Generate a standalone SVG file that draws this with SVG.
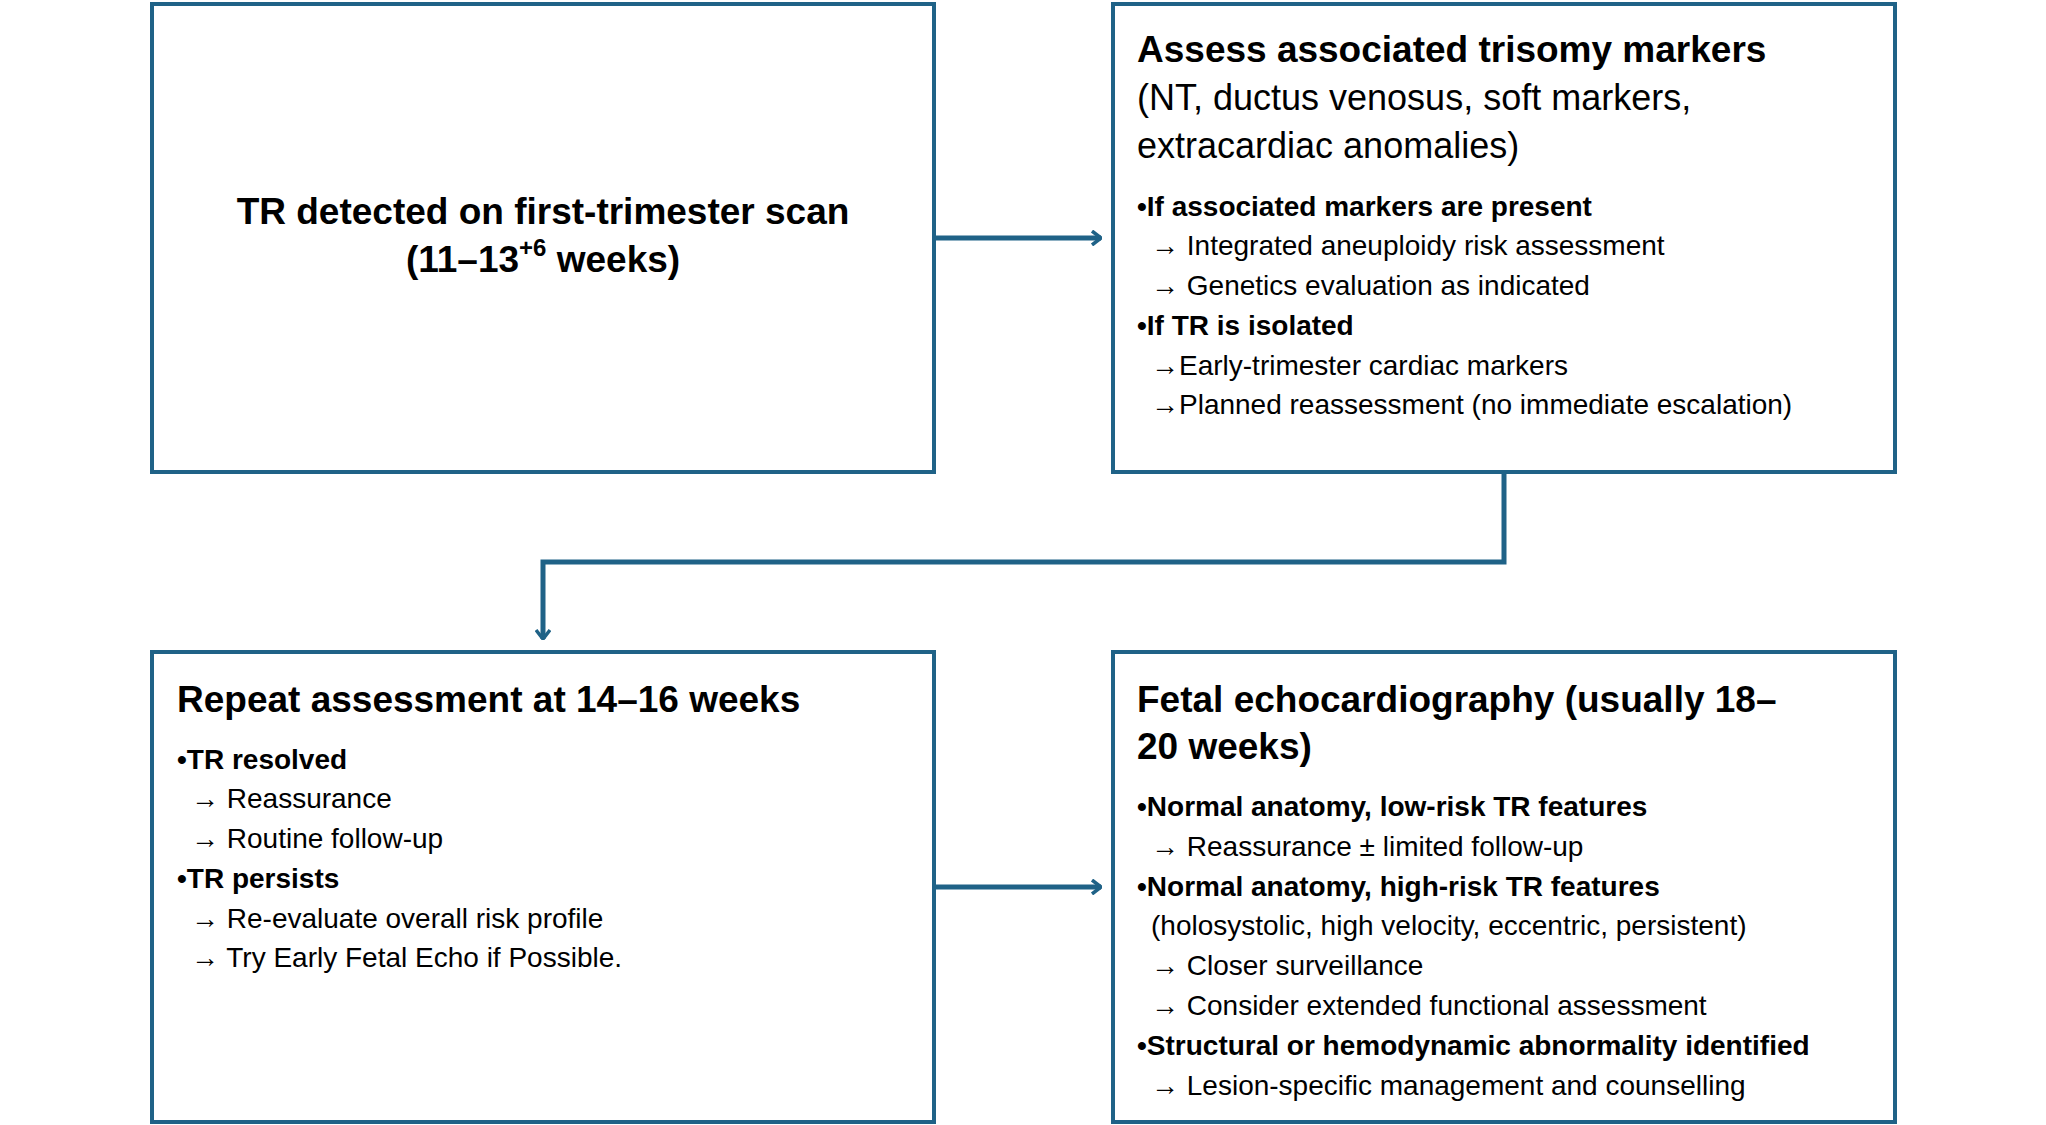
<svg xmlns="http://www.w3.org/2000/svg" width="2046" height="1125" viewBox="0 0 2046 1125">
<style>
.box{fill:#fff;stroke:#1f6287;stroke-width:4}
.c{fill:none;stroke:#1f6287;stroke-width:5}
text{font-family:"Liberation Sans",Arial,sans-serif;fill:#000}
.t{font-size:37px;font-weight:bold}
.s{font-size:36px}
.b{font-size:28px;font-weight:bold}
.n{font-size:28px}
</style>
<defs>
<marker id="ah" viewBox="0 0 12 16" refX="11" refY="8" markerWidth="12" markerHeight="16" markerUnits="userSpaceOnUse" orient="auto">
<path d="M2 1 L11 8 L2 15" fill="none" stroke="#1f6287" stroke-width="3.5"/>
</marker>
</defs>
<g id="connectors">
<path class="c" d="M934 238 H1101" marker-end="url(#ah)"/>
<path class="c" d="M1504 472 V562 H543 V639" marker-end="url(#ah)"/>
<path class="c" d="M934 887 H1101" marker-end="url(#ah)"/>
</g>
<g id="n1">
<rect class="box" x="152" y="4" width="782" height="468"/>
<text class="t" x="543" y="224" text-anchor="middle">TR detected on first-trimester scan</text>
<text class="t" x="543" y="272" text-anchor="middle">(11–13<tspan font-size="24" dy="-16">+6</tspan><tspan dy="16"> weeks)</tspan></text>
</g>
<g id="n2">
<rect class="box" x="1113" y="4" width="782" height="468"/>
<text class="t" x="1137" y="62">Assess associated trisomy markers</text>
<text class="s" x="1137" y="110">(NT, ductus venosus, soft markers,</text>
<text class="s" x="1137" y="158">extracardiac anomalies)</text>
<text class="b" x="1137" y="216">•If associated markers are present</text>
<text class="n" x="1151" y="255">→ Integrated aneuploidy risk assessment</text>
<text class="n" x="1151" y="295">→ Genetics evaluation as indicated</text>
<text class="b" x="1137" y="335">•If TR is isolated</text>
<text class="n" x="1151" y="375">→Early-trimester cardiac markers</text>
<text class="n" x="1151" y="414">→Planned reassessment (no immediate escalation)</text>
</g>
<g id="n3">
<rect class="box" x="152" y="652" width="782" height="470"/>
<text class="t" x="177" y="712">Repeat assessment at 14–16 weeks</text>
<text class="b" x="177" y="769">•TR resolved</text>
<text class="n" x="191" y="808">→ Reassurance</text>
<text class="n" x="191" y="848">→ Routine follow-up</text>
<text class="b" x="177" y="888">•TR persists</text>
<text class="n" x="191" y="928">→ Re-evaluate overall risk profile</text>
<text class="n" x="191" y="967">→ Try Early Fetal Echo if Possible.</text>
</g>
<g id="n4">
<rect class="box" x="1113" y="652" width="782" height="470"/>
<text class="t" x="1137" y="712">Fetal echocardiography (usually 18–</text>
<text class="t" x="1137" y="759">20 weeks)</text>
<text class="b" x="1137" y="816">•Normal anatomy, low-risk TR features</text>
<text class="n" x="1151" y="856">→ Reassurance ± limited follow-up</text>
<text class="b" x="1137" y="896">•Normal anatomy, high-risk TR features</text>
<text class="n" x="1151" y="935">(holosystolic, high velocity, eccentric, persistent)</text>
<text class="n" x="1151" y="975">→ Closer surveillance</text>
<text class="n" x="1151" y="1015">→ Consider extended functional assessment</text>
<text class="b" x="1137" y="1055">•Structural or hemodynamic abnormality identified</text>
<text class="n" x="1151" y="1095">→ Lesion-specific management and counselling</text>
</g>
</svg>
